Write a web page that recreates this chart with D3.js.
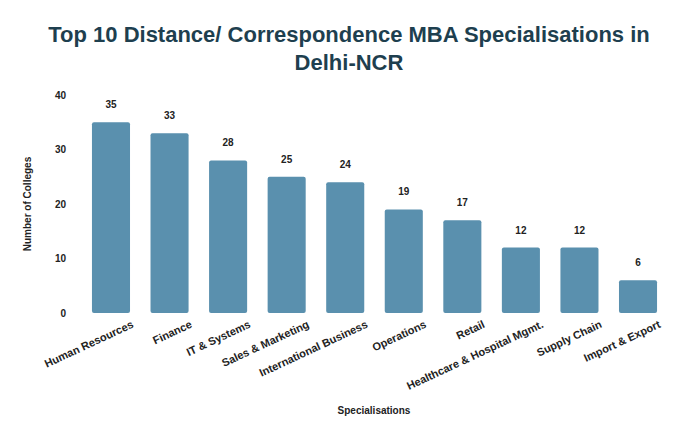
<!DOCTYPE html><html><head><meta charset="utf-8">
<script src="https://cdn.jsdelivr.net/npm/d3@7"></script>
<style>body{margin:0;background:#fff}</style></head><body>
<svg id="c" width="700" height="440"></svg>
<script>
const categories=["Human Resources","Finance","IT & Systems","Sales & Marketing","International Business","Operations","Retail","Healthcare & Hospital Mgmt.","Supply Chain","Import & Export"];
const values=[35,33,28,25,24,19,17,12,12,6];
const yTicks=[0,10,20,30,40];
const svg=d3.select("#c");
const font="Liberation Sans, Arial, sans-serif";
const x=d3.scaleBand().domain(categories).range([82,667]).paddingInner(0.35).paddingOuter(0.17);
const y=d3.scaleLinear().domain([0,40]).range([313,95]);
svg.append("text").attr("x",349).attr("y",42).attr("text-anchor","middle").attr("font-family",font).attr("font-weight","bold").attr("font-size",22).attr("fill","#1e3f4f").text("Top 10 Distance/ Correspondence MBA Specialisations in");
svg.append("text").attr("x",349).attr("y",70).attr("text-anchor","middle").attr("font-family",font).attr("font-weight","bold").attr("font-size",22).attr("fill","#1e3f4f").text("Delhi-NCR");
const ya=svg.append("g").attr("transform","translate(66,0)").call(d3.axisLeft(y).tickValues(yTicks).tickSize(0).tickPadding(0));
ya.select(".domain").remove();
ya.selectAll("text").attr("font-family",font).attr("font-weight","bold").attr("font-size",10).attr("fill","#222");
svg.selectAll("rect.b").data(values).join("rect").attr("class","b")
 .attr("x",(d,i)=>x(categories[i])).attr("width",x.bandwidth())
 .attr("y",d=>y(d)).attr("height",d=>y(0)-y(d)).attr("rx",2).attr("fill","#5a90ae");
svg.selectAll("text.v").data(values).join("text").attr("class","v")
 .attr("x",(d,i)=>x(categories[i])+x.bandwidth()/2).attr("y",d=>y(d)-14)
 .attr("text-anchor","middle").attr("font-family",font).attr("font-weight","bold").attr("font-size",10).attr("fill","#222").text(d=>d);
svg.selectAll("text.xl").data(categories).join("text").attr("class","xl")
 .attr("transform",d=>`translate(${x(d)+x.bandwidth()/2+20},${320}) rotate(-25)`)
 .attr("text-anchor","end").attr("dy","0.7em").attr("font-family",font).attr("font-size",11).attr("font-weight","bold").attr("fill","#222").text(d=>d);
svg.append("text").attr("transform","translate(31,204) rotate(-90)").attr("text-anchor","middle").attr("font-family",font).attr("font-weight","bold").attr("font-size",10).attr("fill","#222").text("Number of Colleges");
svg.append("text").attr("x",374).attr("y",414).attr("text-anchor","middle").attr("font-family",font).attr("font-weight","bold").attr("font-size",10).attr("fill","#222").text("Specialisations");
</script></body></html>
